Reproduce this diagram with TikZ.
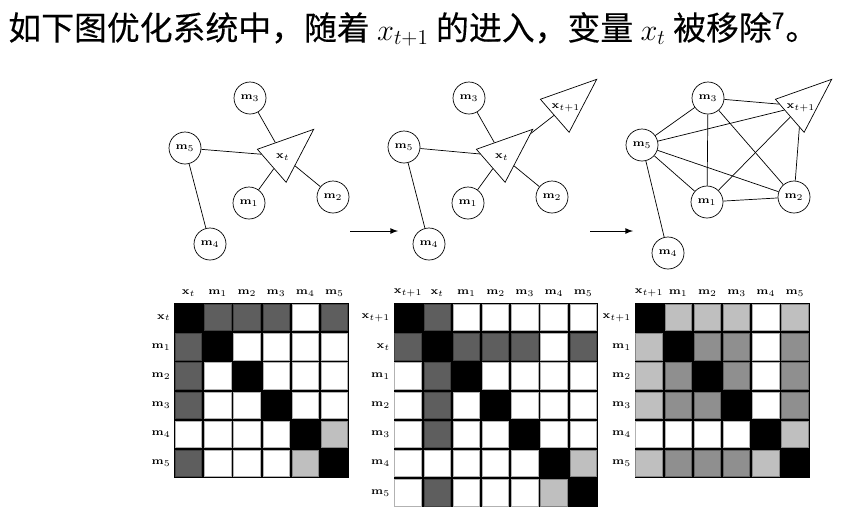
\documentclass[tikz,border=0pt]{standalone}
\usepackage[no-math]{fontspec}
\setmainfont{Noto Sans CJK SC}
\newfontfamily\titlefont{Noto Sans CJK SC}[FakeBold=0.25]
\usetikzlibrary{shapes.geometric,arrows}
\definecolor{cellB}{gray}{0}
\definecolor{cellD}{gray}{0.37}
\definecolor{cellM}{gray}{0.56}
\definecolor{cellL}{gray}{0.75}
\definecolor{cellW}{gray}{1}
\tikzset{
  var/.style={circle,draw,line width=0.4pt,minimum size=0.64cm,inner sep=0pt,
    font=\fontsize{6.5}{8}\selectfont},
  fac/.style={isosceles triangle,isosceles triangle apex angle=43,
    shape border uses incircle,shape border rotate=41,draw,line width=0.4pt,
    inner sep=2pt,text height=4.5pt,text depth=1.5pt,font=\fontsize{6.5}{8}\selectfont},
  lab/.style={inner sep=0pt,font=\fontsize{6.5}{8}\selectfont},
  edge/.style={line width=0.4pt},
}
\newcommand{\vm}[1]{$\mathbf{m}_{#1}$}
\newcommand{\vx}[1]{$\mathbf{x}_{#1}$}
\newcommand{\fx}[1]{\makebox[8pt]{\vx{#1}}}
% #1 x of frame, #2 y of frame, #3 size, #4 labels, #5 rows, #6 name prefix
\newcommand{\infomat}[6]{%
  \fill[black] (#1,#2) rectangle ++({#3*\cs},{#3*\cs});
  \foreach \lbl [count=\k] in {#4} {
    \node[lab] (#6c\k) at ({#1+(\k-0.5)*\cs},293) {\lbl};
    \node[lab,anchor=east] (#6r\k) at ({#1-3},{#2+(\k-0.5)*\cs}) {\lbl};
  }
  \foreach \row [count=\i] in {#5} {
    \foreach \c [count=\j] in \row {
      \filldraw[fill=cell\c,draw=cell\c!70!black,line width=0.5pt]
        ({#1+(\j-1)*\cs+1.4},{#2+(\i-1)*\cs+1.4}) rectangle ++({\cs-2.8},{\cs-2.8});
    }
  }
}
\begin{document}
\begin{tikzpicture}[x=0.02cm,y=-0.02cm]
\pgfmathsetmacro{\cs}{29.2}
\useasboundingbox (0,0) rectangle (841,522);
%
\node[anchor=base west,inner sep=0pt,font=\titlefont\fontsize{18.7}{20}\selectfont] (title) at (8,40)
  {如下图优化系统中，随着 $x_{t+1}$ 的进入，变量 $x_t$ 被移除\textsuperscript{7}。};
%
% left graph
\node[var] (am3) at (250,98) {\vm3};
\node[var] (am5) at (185,148) {\vm5};
\node[var] (am1) at (249,203) {\vm1};
\node[var] (am2) at (333,197) {\vm2};
\node[var] (am4) at (210,244) {\vm4};
\node[fac] (axt) at (283,156) {\fx t};
\draw[edge] (am3)--(axt);
\draw[edge] (am5)--(axt);
\draw[edge] (am1)--(axt);
\draw[edge] (am2)--(axt);
\draw[edge] (am5)--(am4);
%
% middle graph
\node[var] (bm3) at (469,98) {\vm3};
\node[var] (bm5) at (404,147) {\vm5};
\node[var] (bm1) at (468,203) {\vm1};
\node[var] (bm2) at (552,197) {\vm2};
\node[var] (bm4) at (429,244) {\vm4};
\node[fac] (bxt) at (502,156) {\fx t};
\node[fac] (bxn) at (566,106) {\fx{t+1}};
\draw[edge] (bm3)--(bxt);
\draw[edge] (bm5)--(bxt);
\draw[edge] (bm1)--(bxt);
\draw[edge] (bm2)--(bxt);
\draw[edge] (bm5)--(bm4);
\draw[edge] (bxt)--(bxn);
%
% right graph
\node[var] (cm3) at (708,98) {\vm3};
\node[var] (cm5) at (642,145) {\vm5};
\node[var] (cm1) at (707,202) {\vm1};
\node[var] (cm2) at (794,197) {\vm2};
\node[var] (cm4) at (668,253) {\vm4};
\node[fac] (cxn) at (801,106) {\fx{t+1}};
\foreach \a/\b in {cm3/cxn,cm3/cm5,cm3/cm1,cm3/cm2,cm5/cxn,cm5/cm1,cm5/cm2,cm5/cm4,cm1/cxn,cm1/cm2,cm2/cxn}
  \draw[edge] (\a)--(\b);
%
% arrows between graphs
\coordinate (p1) at (350,231);
\coordinate (q1) at (398,231);
\coordinate (p2) at (590,231);
\coordinate (q2) at (633,231);
\draw[-latex,line width=0.5pt] (p1)--(q1);
\draw[-latex,line width=0.5pt] (p2)--(q2);
%
% matrices
\infomat{174}{303}{6}{\vx t,\vm1,\vm2,\vm3,\vm4,\vm5}
  {{B,D,D,D,W,D},{D,B,W,W,W,W},{D,W,B,W,W,W},{D,W,W,B,W,W},{W,W,W,W,B,L},{D,W,W,W,L,B}}{ma}
\infomat{393.5}{303}{7}{\vx{t+1},\vx t,\vm1,\vm2,\vm3,\vm4,\vm5}
  {{B,D,W,W,W,W,W},{D,B,D,D,D,W,D},{W,D,B,W,W,W,W},{W,D,W,B,W,W,W},{W,D,W,W,B,W,W},{W,W,W,W,W,B,L},{W,D,W,W,W,L,B}}{mb}
\infomat{634.5}{303}{6}{\vx{t+1},\vm1,\vm2,\vm3,\vm4,\vm5}
  {{B,L,L,L,W,L},{L,B,M,M,W,M},{L,M,B,M,W,M},{L,M,M,B,W,M},{W,W,W,W,B,L},{L,M,M,M,L,B}}{mc}
\end{tikzpicture}
\end{document}
